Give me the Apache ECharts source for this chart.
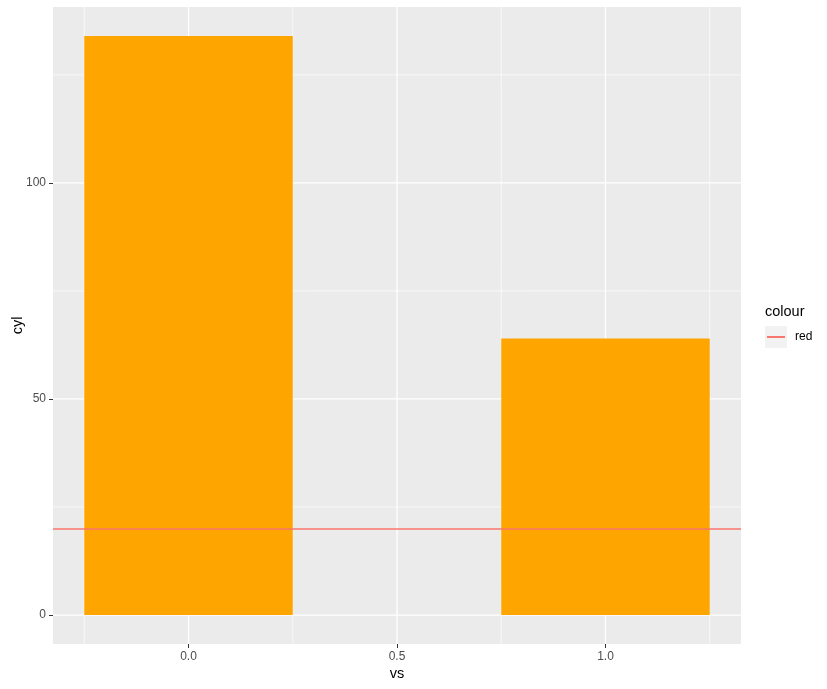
<!DOCTYPE html>
<html><head><meta charset="utf-8">
<script src="https://cdn.jsdelivr.net/npm/echarts@6/dist/echarts.min.js"></script>
<style>html,body{margin:0;padding:0;background:#fff}#c{width:827px;height:689px}</style>
</head><body><div id="c"></div>
<script>
const categories = [0, 1];
const cylSums = [134, 64];
const hlineValue = 20;
const xMajor = [0, 0.5, 1];
const xMinor = [-0.25, 0.25, 0.75, 1.25];
const yMajor = [0, 50, 100];
const yMinor = [25, 75, 125];
const xLabels = ['0.0', '0.5', '1.0'];
const yLabels = ['0', '50', '100'];

const chart = echarts.init(document.getElementById('c'));
const XMIN = -0.325, XMAX = 1.325, YMIN = -6.7, YMAX = 140.7;

const gridLines = [];
xMajor.forEach(v => gridLines.push({value: [v, 0, 1]}));
xMinor.forEach(v => gridLines.push({value: [v, 0, 0]}));
yMajor.forEach(v => gridLines.push({value: [v, 1, 1]}));
yMinor.forEach(v => gridLines.push({value: [v, 1, 0]}));

chart.setOption({
  animation: false,
  grid: {left: 53, right: 86, top: 7, bottom: 45, show: true, backgroundColor: '#EBEBEB', borderWidth: 0,
    containLabel: false, outerBoundsMode: 'none'},
  xAxis: {
    type: 'value', min: XMIN, max: XMAX,
    name: 'vs', nameLocation: 'middle', nameGap: 22, nameMoveOverlap: false,
    nameTextStyle: {color: '#000', fontSize: 14.5, fontFamily: 'Liberation Sans'},
    axisLine: {show: false, onZero: false},
    axisTick: {show: true, length: 4, lineStyle: {color: '#333', width: 1}, customValues: xMajor},
    axisLabel: {color: '#4D4D4D', fontSize: 12, fontFamily: 'Liberation Sans', margin: 7,
      customValues: xMajor, formatter: v => xLabels[xMajor.indexOf(v)] ?? ''},
    splitLine: {show: false}
  },
  yAxis: {
    type: 'value', min: YMIN, max: YMAX,
    name: 'cyl', nameLocation: 'middle', nameGap: 28, nameMoveOverlap: false,
    nameTextStyle: {color: '#000', fontSize: 14.5, fontFamily: 'Liberation Sans'},
    axisLine: {show: false, onZero: false},
    axisTick: {show: true, length: 4, lineStyle: {color: '#333', width: 1}, customValues: yMajor},
    axisLabel: {color: '#4D4D4D', fontSize: 12, fontFamily: 'Liberation Sans', margin: 7,
      customValues: yMajor, formatter: v => yLabels[yMajor.indexOf(v)] ?? ''},
    splitLine: {show: false}
  },
  legend: {
    show: true, left: 767, top: 331, orient: 'vertical',
    data: [{name: 'red', icon: 'rect'}],
    itemWidth: 18, itemHeight: 2, itemGap: 4,
    textStyle: {color: '#000', fontSize: 12, fontFamily: 'Liberation Sans', padding: [0, 0, 0, 5]},
    padding: [0, 0, 0, 0]
  },
  graphic: [
    {type: 'rect', left: 765, top: 326, shape: {width: 22, height: 22}, style: {fill: '#F2F2F2'}, z: -1, silent: true},
    {type: 'text', left: 765, top: 304, style: {text: 'colour', fill: '#000', fontSize: 14.5, fontFamily: 'Liberation Sans'}}
  ],
  series: [
    {
      type: 'custom', name: 'grid', silent: true, z: 0,
      data: gridLines,
      renderItem: function (params, api) {
        const v = api.value(0), dir = api.value(1), major = api.value(2);
        let p1, p2;
        if (dir === 0) { p1 = api.coord([v, YMIN]); p2 = api.coord([v, YMAX]); }
        else { p1 = api.coord([XMIN, v]); p2 = api.coord([XMAX, v]); }
        return {type: 'line', shape: {x1: p1[0], y1: p1[1], x2: p2[0], y2: p2[1]},
          style: {stroke: '#FFFFFF', lineWidth: major ? 1.3 : 0.65}};
      }
    },
    {
      type: 'custom', name: 'bars', z: 2,
      data: categories.map((c, i) => [c, cylSums[i]]),
      renderItem: function (params, api) {
        const x = api.value(0), y = api.value(1);
        const tl = api.coord([x - 0.25, y]);
        const br = api.coord([x + 0.25, 0]);
        return {type: 'rect', shape: {x: tl[0], y: tl[1], width: br[0] - tl[0], height: br[1] - tl[1]},
          style: {fill: '#FFA500'}};
      }
    },
    {
      type: 'line', name: 'red', data: [], z: 3,
      itemStyle: {color: '#F8766D'}, lineStyle: {color: '#F8766D'},
      markLine: {
        silent: true, symbol: 'none', label: {show: false},
        lineStyle: {color: '#F8766D', width: 1.6, type: 'solid'},
        data: [{yAxis: hlineValue}]
      }
    }
  ]
});
</script></body></html>
